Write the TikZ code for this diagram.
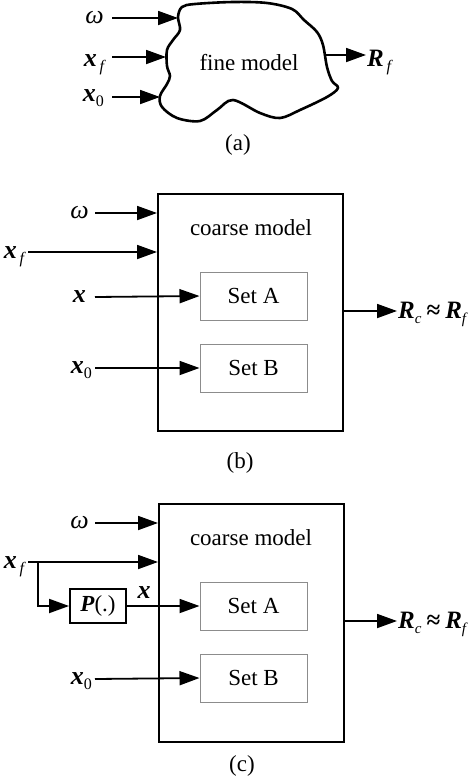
\documentclass[tikz,border=0pt]{standalone}
\usepackage{fontspec}
\setmainfont{Liberation Serif}
\usetikzlibrary{arrows.meta}
\newcommand\bvec[1]{\textbf{\textit{#1}}}
\newcommand\subit[1]{\raisebox{-0.45ex}{\fontsize{16}{16}\selectfont\,\textit{#1}}}
\newcommand\subtight[1]{\raisebox{-0.45ex}{\fontsize{15}{15}\selectfont\textit{#1}}}
\newcommand\subrm[1]{\raisebox{-0.45ex}{\fontsize{16}{16}\selectfont #1}}
\begin{document}
\begin{tikzpicture}[x=1pt,y=-1pt,
  every node/.style={font=\fontsize{23}{27}\selectfont, inner sep=0pt},
  arr/.style={line width=1.8pt,-{Triangle[length=20pt,width=14pt]}},
  outerbox/.style={draw,line width=2pt,minimum width=185pt,minimum height=237pt},
  setbox/.style={draw=black!45,line width=1pt,minimum width=107pt,minimum height=48pt},
  pbox/.style={draw,line width=1.8pt,minimum width=56pt,minimum height=34pt},
  lbl/.style={anchor=base east,font=\fontsize{26}{30}\selectfont},
  rlbl/.style={anchor=base west,font=\fontsize{25}{30}\selectfont}]
\useasboundingbox (0,0) rectangle (474,777);

% ---------- (a) ----------
\draw[line width=2.6pt,line join=round] plot[smooth cycle,tension=0.55] coordinates {
 (178,17) (182,7) (195,4) (233,2) (267,3) (292,9) (304,20) (317,32) (323,45)
 (327,67) (332,81) (338,88) (327,97) (300,110) (280,118) (260,113) (233,100)
 (217,110) (200,121) (177,118) (162,107) (160,96) (167,84) (170,76) (167,66)
 (167,50) (173,40) (180,30)};
\node[anchor=base] (fine) at (249,70) {fine model};
\node[lbl] (aw) at (104,23) {\textit{ω}};
\node[lbl] (axf) at (106,66) {\bvec{x}\subit{f}};
\node[lbl] (ax0) at (104,101) {\bvec{x}\subrm{0}};
\coordinate (aw0) at (112,18);  \coordinate (aw1) at (178,18);
\coordinate (af0) at (112,57);  \coordinate (af1) at (166,57);
\coordinate (a00) at (112,97);  \coordinate (a01) at (160,97);
\draw[arr] (aw0) -- (aw1);
\draw[arr] (af0) -- (af1);
\draw[arr] (a00) -- (a01);
\coordinate (ar0) at (324,55); \coordinate (ar1) at (366,55);
\draw[arr] (ar0) -- (ar1);
\node[rlbl] (arf) at (367,66) {\bvec{R}\subit{f}};
\node (capa) at (238,145) {(a)};

% ---------- (b) ----------
\node[outerbox] (bbox) at (250.5,312.5) {};
\node[anchor=base] (bcm) at (251,235) {coarse model};
\node[setbox] (bA) at (253.5,296) {Set A};
\node[setbox] (bB) at (253.5,368) {Set B};
\node[lbl] (bw) at (89,218) {\textit{ω}};
\node[lbl] (bxf) at (26,258) {\bvec{x}\subit{f}};
\node[lbl] (bx) at (86,302) {\bvec{x}};
\node[lbl] (bx0) at (92,373) {\bvec{x}\subrm{0}};
\coordinate (bw0) at (95,213);
\coordinate (bf0) at (28,252);
\coordinate (bx00) at (95,297);
\coordinate (b000) at (95,368);
\draw[arr] (bw0) -- (bw0 -| bbox.west);
\draw[arr] (bf0) -- (bf0 -| bbox.west);
\draw[arr] (bx00) -- (bA.west);
\draw[arr] (b000) -- (bB.west);
\coordinate (bo1) at (397,311);
\draw[arr] (bo1 -| bbox.east) -- (bo1);
\node[rlbl] (brc) at (398,318) {\bvec{R}\subtight{c}\kern5pt\textbf{≈}\kern5pt\bvec{R}\subtight{f}};
\node (capb) at (240,463) {(b)};

% ---------- (c) ----------
\node[outerbox,minimum height=238pt] (cbox) at (251.5,623) {};
\node[anchor=base] (ccm) at (251,545) {coarse model};
\node[setbox] (cA) at (253.5,606) {Set A};
\node[setbox] (cB) at (253.5,678) {Set B};
\node[lbl] (cw) at (89,528) {\textit{ω}};
\node[lbl] (cxf) at (26,568) {\bvec{x}\subit{f}};
\node[pbox] (cP) at (98,606) {\bvec{P}(.)};
\node[anchor=base,font=\fontsize{26}{30}\selectfont] (cx) at (144,598) {\bvec{x}};
\node[lbl] (cx0) at (92,684) {\bvec{x}\subrm{0}};
\coordinate (cw0) at (95,523);
\coordinate (cf0) at (28,562);
\coordinate (cbr) at (38,562);
\coordinate (c000) at (95,679);
\draw[arr] (cw0) -- (cw0 -| cbox.west);
\draw[arr] (cf0) -- (cf0 -| cbox.west);
\draw[arr] (cbr) |- (cP.west);
\draw[arr] (cP.east) -- (cA.west);
\draw[arr] (c000) -- (cB.west);
\coordinate (co1) at (397,621);
\draw[arr] (co1 -| cbox.east) -- (co1);
\node[rlbl] (crc) at (398,628) {\bvec{R}\subtight{c}\kern5pt\textbf{≈}\kern5pt\bvec{R}\subtight{f}};
\node (capc) at (242,766) {(c)};
\end{tikzpicture}
\end{document}
